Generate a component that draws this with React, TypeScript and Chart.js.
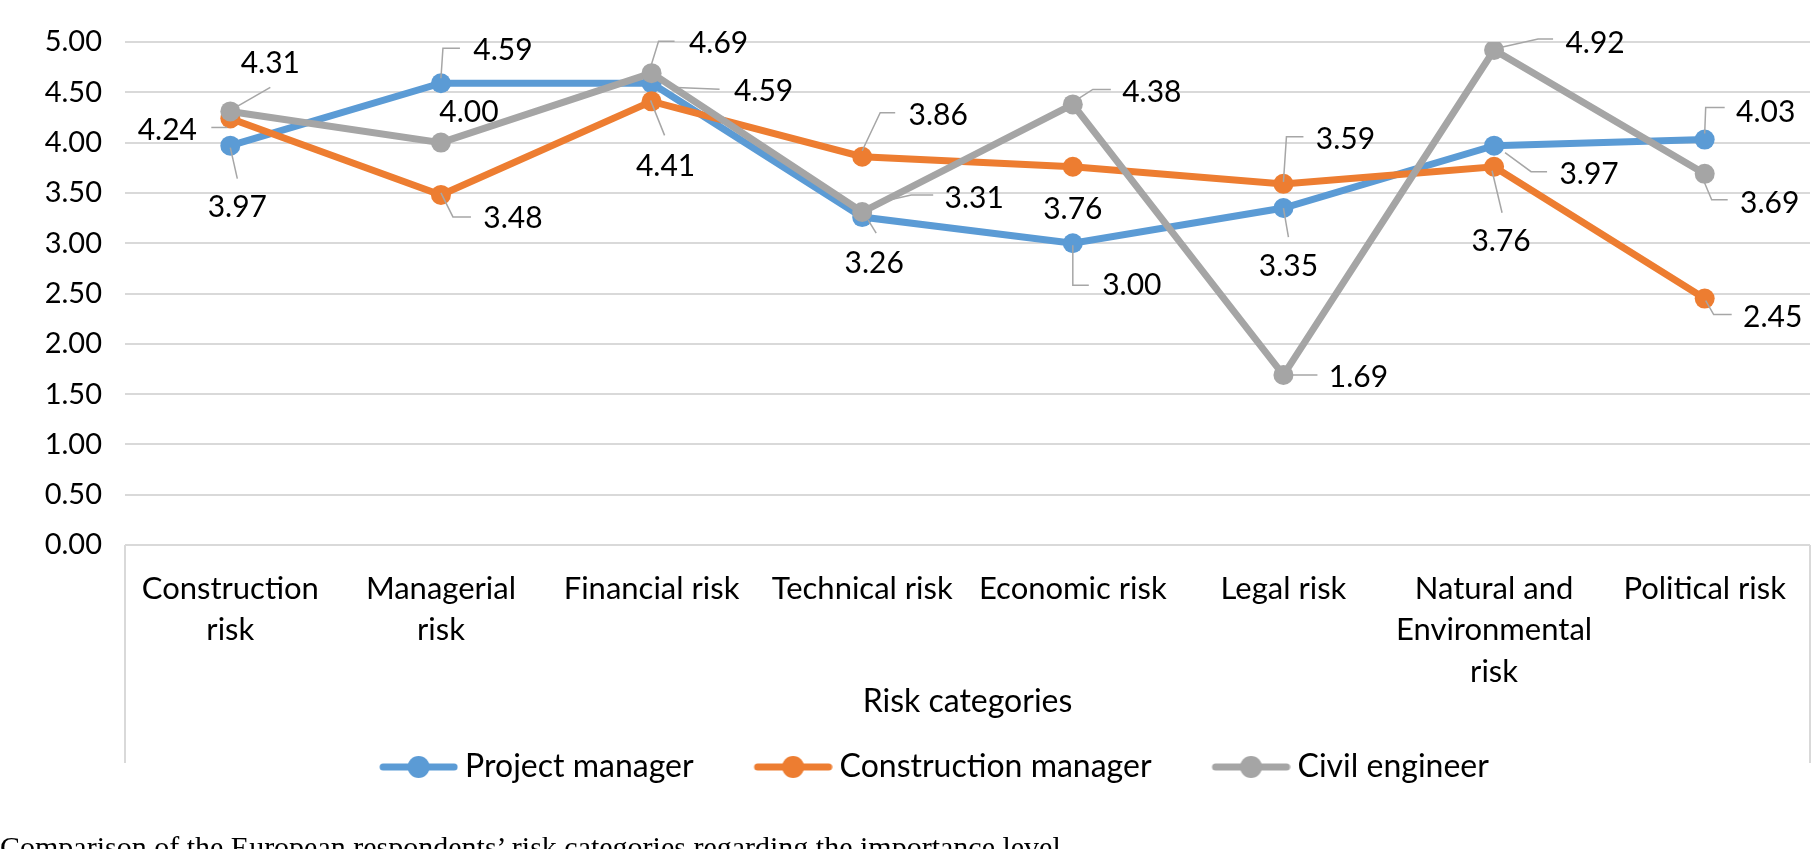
import React, { useEffect, useRef } from "react";
import { Chart, registerables } from "chart.js";

Chart.register(...registerables);

// ---------- data ----------
const categories: (string | string[])[] = [
  ["Construction", "risk"],
  ["Managerial", "risk"],
  "Financial risk",
  "Technical risk",
  "Economic risk",
  "Legal risk",
  ["Natural and", "Environmental", "risk"],
  "Political risk",
];
const projectManager = [3.97, 4.59, 4.59, 3.26, 3.0, 3.35, 3.97, 4.03];
const constructionManager = [4.24, 3.48, 4.41, 3.86, 3.76, 3.59, 3.76, 2.45];
const civilEngineer = [4.31, 4.0, 4.69, 3.31, 4.38, 1.69, 4.92, 3.69];
const seriesNames = ["Project manager", "Construction manager", "Civil engineer"];
const yMin = 0;
const yMax = 5;
const yStep = 0.5;
const xTitle = "Risk categories";
const caption =
  "Comparison of the European respondents\u2019 risk categories regarding the importance level";

// ---------- styles ----------
const colors = ["#5B9BD5", "#ED7D31", "#A5A5A5"];
const FONT = "Lato, 'Open Sans', sans-serif";

// label placement (offset of label centre from point, leader polyline relative to point)
type LL = { dx: number; dy: number; leader?: number[][] };
const labelLayout: LL[][] = [
  [
    { dx: 7, dy: 60, leader: [[0, 2], [7, 33]] },
    { dx: 62, dy: -34, leader: [[0, -5], [2, -35], [19, -35]] },
    { dx: 112, dy: 7, leader: [[19, 4], [68, 6]] },
    { dx: 12, dy: 45, leader: [[6, 3], [14, 16]] },
    { dx: 59, dy: 41, leader: [[0, 2], [0, 42], [16, 42]] },
    { dx: 5, dy: 57, leader: [[0, 0], [5, 29]] },
    { dx: 95, dy: 27, leader: [[11, 7], [37, 26], [53, 26]] },
    { dx: 61, dy: -29, leader: [[0, -6], [1, -32], [20, -32]] },
  ],
  [
    { dx: -63, dy: 11, leader: [[-19, 9], [-3, 9]] },
    { dx: 72, dy: 22, leader: [[0, -2], [12, 22], [30, 22]] },
    { dx: 14, dy: 64, leader: [[-1, -1], [13, 34]] },
    { dx: 76, dy: -43, leader: [[0, -6], [18, -44], [33, -44]] },
    { dx: 0, dy: 41 },
    { dx: 62, dy: -46, leader: [[0, -2], [3, -47], [20, -47]] },
    { dx: 7, dy: 73, leader: [[-2, 4], [8, 46]] },
    { dx: 68, dy: 17, leader: [[1, 2], [9, 16], [27, 16]] },
  ],
  [
    { dx: 40, dy: -49, leader: [[0, -1], [40, -24]] },
    { dx: 28, dy: -32 },
    { dx: 67, dy: -31, leader: [[-1, -6], [7, -32], [23, -32]] },
    { dx: 112, dy: -15, leader: [[14, -9], [49, -17], [71, -17]] },
    { dx: 79, dy: -13, leader: [[6, -6], [20, -15], [38, -15]] },
    { dx: 75, dy: 1, leader: [[0, 0], [34, 0]] },
    { dx: 101, dy: -8, leader: [[4, -2], [44, -11], [59, -11]] },
    { dx: 65, dy: 28, leader: [[-1, 7], [7, 26], [23, 26]] },
  ],
];

const dataLabelPlugin = {
  id: "dataLabels",
  afterDatasetsDraw(chart: any) {
    const ctx = chart.ctx;
    ctx.save();
    chart.data.datasets.forEach((ds: any, di: number) => {
      const meta = chart.getDatasetMeta(di);
      meta.data.forEach((el: any, i: number) => {
        const lay = labelLayout[di][i];
        const x = el.x;
        const y = el.y;
        if (lay.leader) {
          ctx.beginPath();
          ctx.strokeStyle = "#A6A6A6";
          ctx.lineWidth = 1.5;
          lay.leader.forEach((p, k) => {
            if (k === 0) ctx.moveTo(x + p[0], y + p[1]);
            else ctx.lineTo(x + p[0], y + p[1]);
          });
          ctx.stroke();
        }
        ctx.fillStyle = "#000";
        ctx.font = `30px ${FONT}`;
        ctx.textAlign = "center";
        ctx.textBaseline = "alphabetic";
        ctx.fillText(Number(ds.data[i]).toFixed(2), x + lay.dx, y + lay.dy + 11);
      });
    });
    ctx.restore();
  },
};

const axisBoxPlugin = {
  id: "axisBox",
  beforeDatasetsDraw(chart: any) {
    const { ctx, chartArea } = chart;
    ctx.save();
    ctx.strokeStyle = "#D9D9D9";
    ctx.lineWidth = 2;
    ctx.beginPath();
    ctx.moveTo(chartArea.left, chartArea.bottom);
    ctx.lineTo(chartArea.left, chartArea.bottom + 218);
    ctx.moveTo(chartArea.right, chartArea.bottom);
    ctx.lineTo(chartArea.right, chartArea.bottom + 218);
    ctx.stroke();
    ctx.restore();
  },
};

// legend symbol: line with a round marker, padded on the left so spacing matches
const SYM_W = 79;
const SYM_PAD = 65;
const LEGEND_BOX = 126;
function makeLegendSymbol(color: string): HTMLCanvasElement {
  const c = document.createElement("canvas");
  c.width = SYM_W + SYM_PAD;
  c.height = 28;
  const g = c.getContext("2d")!;
  g.strokeStyle = color;
  g.lineWidth = 7;
  g.lineCap = "round";
  g.beginPath();
  g.moveTo(SYM_PAD + 4, 14);
  g.lineTo(SYM_PAD + SYM_W - 4, 14);
  g.stroke();
  g.fillStyle = color;
  g.beginPath();
  g.arc(SYM_PAD + SYM_W / 2, 14, 11, 0, Math.PI * 2);
  g.fill();
  return c;
}

export default function App() {
  const ref = useRef<HTMLCanvasElement>(null);
  useEffect(() => {
    if (!ref.current) return;
    const symbols = colors.map(makeLegendSymbol);
    const series = [projectManager, constructionManager, civilEngineer];
    const chart = new Chart(ref.current, {
      type: "line",
      data: {
        labels: categories as any,
        datasets: series.map((d, i) => ({
          label: seriesNames[i],
          data: d,
          borderColor: colors[i],
          backgroundColor: colors[i],
          pointBackgroundColor: colors[i],
          pointBorderColor: colors[i],
          borderWidth: 7,
          pointRadius: 10,
          pointBorderWidth: 0,
          tension: 0,
          order: 2 - i,
        })),
      },
      options: {
        animation: false,
        responsive: false,
        maintainAspectRatio: false,
        layout: { padding: { left: 0, right: 8, top: 42, bottom: 56 } },
        plugins: {
          tooltip: { enabled: false },
          legend: {
            position: "bottom",
            labels: {
              usePointStyle: true,
              pointStyleWidth: LEGEND_BOX,
              padding: 4,
              color: "#000",
              font: { family: FONT, size: 32 },
              sort: (a: any, b: any) => a.datasetIndex - b.datasetIndex,
              generateLabels: (ch: any) =>
                ch.data.datasets.map((ds: any, i: number) => ({
                  text: ds.label,
                  pointStyle: symbols[i],
                  fillStyle: colors[i],
                  strokeStyle: colors[i],
                  lineWidth: 0,
                  hidden: false,
                  datasetIndex: i,
                  fontColor: "#000",
                })),
            },
          },
        },
        scales: {
          x: {
            type: "category",
            offset: true,
            grid: { display: false, drawTicks: false },
            border: { display: false },
            ticks: {
              autoSkip: false,
              maxRotation: 0,
              minRotation: 0,
              padding: 23,
              color: "#000",
              font: { family: FONT, size: 31, lineHeight: 1.339 },
            },
            title: {
              display: true,
              text: xTitle,
              color: "#000",
              font: { family: FONT, size: 32, lineHeight: 1.2 },
              padding: { top: -33, bottom: 26 },
            },
          },
          y: {
            min: yMin,
            max: yMax,
            grid: { color: "#D9D9D9", lineWidth: 2, drawTicks: false },
            border: { display: false },
            afterFit: (s: any) => {
              s.width = 125;
            },
            ticks: {
              stepSize: yStep,
              padding: 23,
              color: "#000",
              font: { family: FONT, size: 29 },
              callback: (v: any) => Number(v).toFixed(2),
            },
          },
        },
      },
      plugins: [axisBoxPlugin, dataLabelPlugin],
    });
    return () => chart.destroy();
  }, []);

  return (
    <div
      style={{
        position: "absolute",
        left: 0,
        top: 0,
        width: 1820,
        height: 849,
        overflow: "hidden",
        background: "#fff",
      }}
    >
      <canvas ref={ref} width={1820} height={849} style={{ display: "block", width: 1820, height: 849 }} />
      <div
        style={{
          position: "absolute",
          left: 0,
          top: 832,
          fontFamily: "'Liberation Serif', 'DejaVu Serif', serif",
          fontSize: 30,
          lineHeight: "30px",
          whiteSpace: "nowrap",
          color: "#000",
        }}
      >
        {caption}
      </div>
    </div>
  );
}
